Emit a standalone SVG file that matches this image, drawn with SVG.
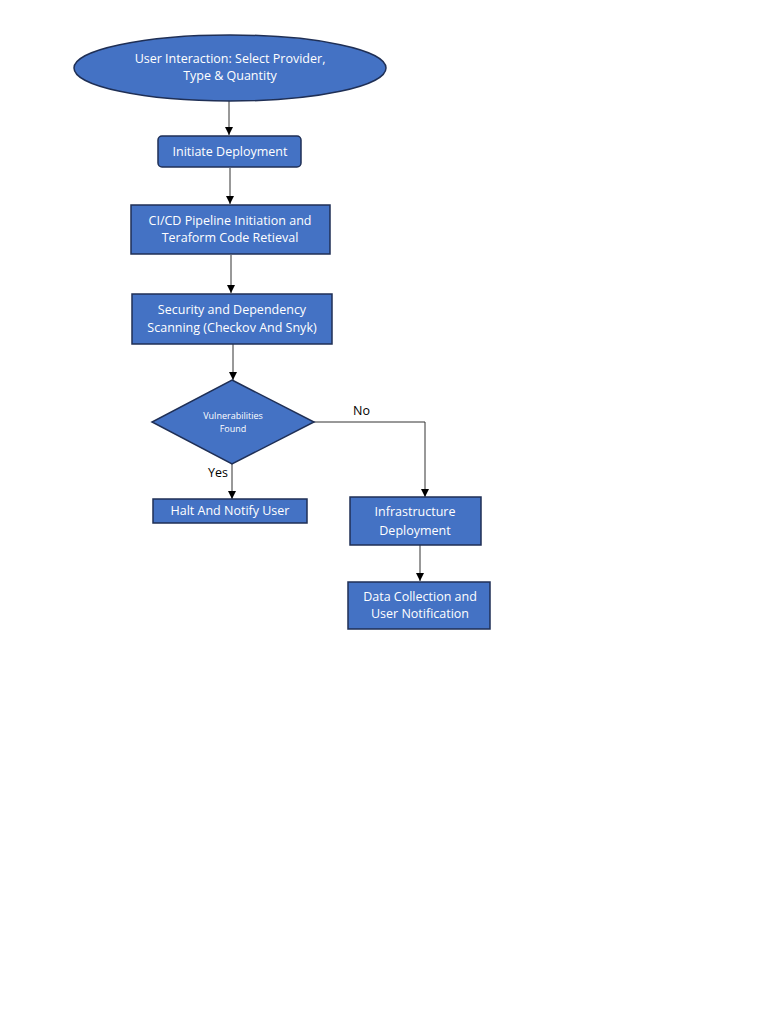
<svg xmlns="http://www.w3.org/2000/svg" width="768" height="1024" viewBox="0 0 768 1024">
<style>
.n{fill:#4472c4;stroke:#1f2f55;stroke-width:1.5}
.t{fill:#fff;font-family:"Open Sans","Noto Sans",sans-serif;font-size:12.5px;text-anchor:middle}
.s{fill:#fff;font-family:"Open Sans","Noto Sans",sans-serif;font-size:9px;text-anchor:middle}
.l{fill:#000;font-family:"Open Sans","Noto Sans",sans-serif;font-size:12.5px}
.c{fill:none;stroke:#333;stroke-width:1;marker-end:url(#a)}
</style>
<defs><marker id="a" viewBox="0 0 10 10" refX="10" refY="5" markerWidth="8" markerHeight="8" orient="auto"><path d="M0,0L10,5L0,10z" fill="#000"/></marker></defs>
<rect width="768" height="1024" fill="#fff"/>
<g id="connectors">
<path class="c" d="M229,101V135"/>
<path class="c" d="M230,168V204"/>
<path class="c" d="M231,255V293"/>
<path class="c" d="M233,344V380"/>
<path class="c" d="M314,422H425V497"/>
<path class="c" d="M232,464V499"/>
<path class="c" d="M420,545V581"/>
</g>
<text class="l" x="353" y="415">No</text>
<text class="l" x="208" y="477">Yes</text>
<g id="start"><ellipse class="n" cx="230" cy="68" rx="156" ry="33"/><text class="t" x="230" y="63">User Interaction: Select Provider,</text><text class="t" x="230" y="80">Type &amp; Quantity</text></g>
<g id="initiate"><rect class="n" x="158" y="136" width="143" height="31" rx="4"/><text class="t" x="230" y="156">Initiate Deployment</text></g>
<g id="cicd"><rect class="n" x="131" y="205" width="199" height="49"/><text class="t" x="230" y="225">CI/CD Pipeline Initiation and</text><text class="t" x="230" y="242">Teraform Code Retieval</text></g>
<g id="scan"><rect class="n" x="132" y="294" width="200" height="50"/><text class="t" x="232" y="314">Security and Dependency</text><text class="t" x="232" y="332">Scanning (Checkov And Snyk)</text></g>
<g id="decision"><polygon class="n" points="232,380 314,422 232,464 152,422"/><text class="s" x="233" y="419">Vulnerabilities</text><text class="s" x="233" y="432">Found</text></g>
<g id="halt"><rect class="n" x="153" y="499" width="154" height="24"/><text class="t" x="230" y="515">Halt And Notify User</text></g>
<g id="infra"><rect class="n" x="350" y="497" width="131" height="48"/><text class="t" x="415" y="516">Infrastructure</text><text class="t" x="415" y="535">Deployment</text></g>
<g id="data"><rect class="n" x="348" y="582" width="142" height="47"/><text class="t" x="420" y="601">Data Collection and</text><text class="t" x="420" y="618">User Notification</text></g>
</svg>
